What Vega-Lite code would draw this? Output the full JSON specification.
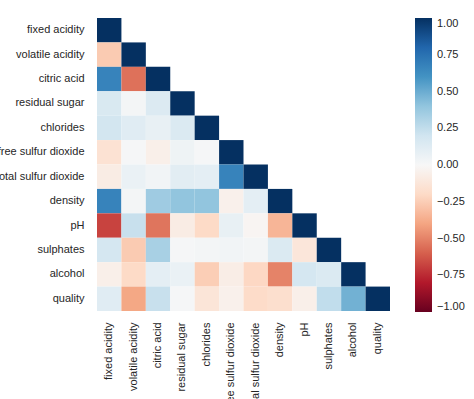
{
  "$schema": "https://vega.github.io/schema/vega-lite/v6.json",
  "autosize": {"type": "none"},
  "padding": {"left": 97, "top": 18, "right": 84, "bottom": 88},
  "width": 293,
  "height": 293,
  "background": "white",
  "config": {
    "view": {"stroke": null},
    "font": "Liberation Sans",
    "axis": {"labelFont": "Liberation Sans", "labelFontSize": 11, "labelColor": "#262626", "ticks": false, "domain": false, "grid": false, "title": null},
    "legend": {"labelFont": "Liberation Sans", "labelFontSize": 11, "labelColor": "#262626"}
  },
  "data": {
    "values": [
      {"row": "fixed acidity", "col": "fixed acidity", "value": 1},
      {"row": "volatile acidity", "col": "fixed acidity", "value": -0.26},
      {"row": "volatile acidity", "col": "volatile acidity", "value": 1},
      {"row": "citric acid", "col": "fixed acidity", "value": 0.67},
      {"row": "citric acid", "col": "volatile acidity", "value": -0.55},
      {"row": "citric acid", "col": "citric acid", "value": 1},
      {"row": "residual sugar", "col": "fixed acidity", "value": 0.16},
      {"row": "residual sugar", "col": "volatile acidity", "value": 0.02},
      {"row": "residual sugar", "col": "citric acid", "value": 0.14},
      {"row": "residual sugar", "col": "residual sugar", "value": 1},
      {"row": "chlorides", "col": "fixed acidity", "value": 0.19},
      {"row": "chlorides", "col": "volatile acidity", "value": 0.12},
      {"row": "chlorides", "col": "citric acid", "value": 0.08},
      {"row": "chlorides", "col": "residual sugar", "value": 0.15},
      {"row": "chlorides", "col": "chlorides", "value": 1},
      {"row": "free sulfur dioxide", "col": "fixed acidity", "value": -0.15},
      {"row": "free sulfur dioxide", "col": "volatile acidity", "value": 0.01},
      {"row": "free sulfur dioxide", "col": "citric acid", "value": -0.06},
      {"row": "free sulfur dioxide", "col": "residual sugar", "value": 0.05},
      {"row": "free sulfur dioxide", "col": "chlorides", "value": 0.01},
      {"row": "free sulfur dioxide", "col": "free sulfur dioxide", "value": 1},
      {"row": "total sulfur dioxide", "col": "fixed acidity", "value": -0.08},
      {"row": "total sulfur dioxide", "col": "volatile acidity", "value": 0.07},
      {"row": "total sulfur dioxide", "col": "citric acid", "value": 0.03},
      {"row": "total sulfur dioxide", "col": "residual sugar", "value": 0.11},
      {"row": "total sulfur dioxide", "col": "chlorides", "value": 0.1},
      {"row": "total sulfur dioxide", "col": "free sulfur dioxide", "value": 0.67},
      {"row": "total sulfur dioxide", "col": "total sulfur dioxide", "value": 1},
      {"row": "density", "col": "fixed acidity", "value": 0.67},
      {"row": "density", "col": "volatile acidity", "value": 0.02},
      {"row": "density", "col": "citric acid", "value": 0.36},
      {"row": "density", "col": "residual sugar", "value": 0.4},
      {"row": "density", "col": "chlorides", "value": 0.4},
      {"row": "density", "col": "free sulfur dioxide", "value": -0.05},
      {"row": "density", "col": "total sulfur dioxide", "value": 0.1},
      {"row": "density", "col": "density", "value": 1},
      {"row": "pH", "col": "fixed acidity", "value": -0.68},
      {"row": "pH", "col": "volatile acidity", "value": 0.23},
      {"row": "pH", "col": "citric acid", "value": -0.54},
      {"row": "pH", "col": "residual sugar", "value": -0.08},
      {"row": "pH", "col": "chlorides", "value": -0.2},
      {"row": "pH", "col": "free sulfur dioxide", "value": 0.08},
      {"row": "pH", "col": "total sulfur dioxide", "value": -0.02},
      {"row": "pH", "col": "density", "value": -0.34},
      {"row": "pH", "col": "pH", "value": 1},
      {"row": "sulphates", "col": "fixed acidity", "value": 0.18},
      {"row": "sulphates", "col": "volatile acidity", "value": -0.26},
      {"row": "sulphates", "col": "citric acid", "value": 0.33},
      {"row": "sulphates", "col": "residual sugar", "value": 0.01},
      {"row": "sulphates", "col": "chlorides", "value": 0.02},
      {"row": "sulphates", "col": "free sulfur dioxide", "value": 0.03},
      {"row": "sulphates", "col": "total sulfur dioxide", "value": 0.02},
      {"row": "sulphates", "col": "density", "value": 0.15},
      {"row": "sulphates", "col": "pH", "value": -0.12},
      {"row": "sulphates", "col": "sulphates", "value": 1},
      {"row": "alcohol", "col": "fixed acidity", "value": -0.06},
      {"row": "alcohol", "col": "volatile acidity", "value": -0.2},
      {"row": "alcohol", "col": "citric acid", "value": 0.1},
      {"row": "alcohol", "col": "residual sugar", "value": 0.07},
      {"row": "alcohol", "col": "chlorides", "value": -0.25},
      {"row": "alcohol", "col": "free sulfur dioxide", "value": -0.07},
      {"row": "alcohol", "col": "total sulfur dioxide", "value": -0.21},
      {"row": "alcohol", "col": "density", "value": -0.5},
      {"row": "alcohol", "col": "pH", "value": 0.18},
      {"row": "alcohol", "col": "sulphates", "value": 0.15},
      {"row": "alcohol", "col": "alcohol", "value": 1},
      {"row": "quality", "col": "fixed acidity", "value": 0.12},
      {"row": "quality", "col": "volatile acidity", "value": -0.39},
      {"row": "quality", "col": "citric acid", "value": 0.23},
      {"row": "quality", "col": "residual sugar", "value": 0.01},
      {"row": "quality", "col": "chlorides", "value": -0.13},
      {"row": "quality", "col": "free sulfur dioxide", "value": -0.05},
      {"row": "quality", "col": "total sulfur dioxide", "value": -0.19},
      {"row": "quality", "col": "density", "value": -0.17},
      {"row": "quality", "col": "pH", "value": -0.06},
      {"row": "quality", "col": "sulphates", "value": 0.25},
      {"row": "quality", "col": "alcohol", "value": 0.48},
      {"row": "quality", "col": "quality", "value": 1}
    ]
  },
  "mark": {"type": "rect"},
  "encoding": {
    "x": {
      "field": "col", "type": "nominal",
      "sort": ["fixed acidity", "volatile acidity", "citric acid", "residual sugar", "chlorides", "free sulfur dioxide", "total sulfur dioxide", "density", "pH", "sulphates", "alcohol", "quality"],
      "scale": {"paddingInner": 0, "paddingOuter": 0},
      "axis": {"labelAngle": 270, "labelPadding": 11, "labelAlign": "right", "labelBaseline": "middle"}
    },
    "y": {
      "field": "row", "type": "nominal",
      "sort": ["fixed acidity", "volatile acidity", "citric acid", "residual sugar", "chlorides", "free sulfur dioxide", "total sulfur dioxide", "density", "pH", "sulphates", "alcohol", "quality"],
      "scale": {"paddingInner": 0, "paddingOuter": 0},
      "axis": {"labelPadding": 13}
    },
    "color": {
      "field": "value", "type": "quantitative",
      "scale": {
        "domain": [-1, -0.8, -0.6, -0.4, -0.2, 0, 0.2, 0.4, 0.6, 0.8, 1],
        "range": ["#67001f", "#b2182b", "#d6604d", "#f4a582", "#fddbc7", "#f7f7f7", "#d1e5f0", "#92c5de", "#4393c3", "#2166ac", "#053061"],
        "interpolate": "rgb"
      },
      "legend": {
        "title": null,
        "orient": "right",
        "offset": 25,
        "gradientLength": 294,
        "gradientThickness": 17,
        "gradientStrokeWidth": 0,
        "values": [-1, -0.75, -0.5, -0.25, 0, 0.25, 0.5, 0.75, 1],
        "format": ".2f",
        "labelBaseline": "middle",
        "labelOffset": 5,
        "labelOverlap": false
      }
    }
  }
}
